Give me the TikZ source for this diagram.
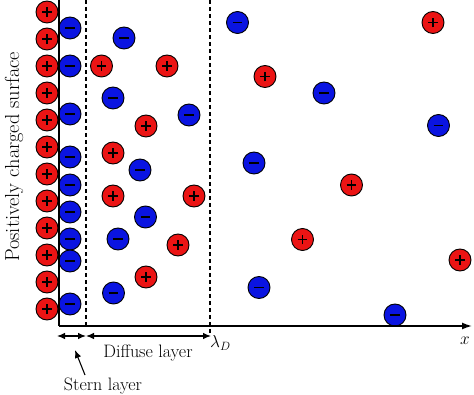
\documentclass[tikz,border=0pt]{standalone}
\usetikzlibrary{arrows.meta}
\definecolor{ionred}{RGB}{235,20,20}
\definecolor{ionblue}{RGB}{10,20,225}
\tikzset{
  ion/.style={circle, draw=black, line width=0.9pt, minimum size=22pt, inner sep=0pt},
  posion/.style={ion, fill=ionred, path picture={
      \draw[line width=1.2pt] ([xshift=-4.8pt]path picture bounding box.center) -- ([xshift=4.8pt]path picture bounding box.center);
      \draw[line width=1.2pt] ([yshift=-4.8pt]path picture bounding box.center) -- ([yshift=4.8pt]path picture bounding box.center);}},
  negion/.style={ion, fill=ionblue, path picture={
      \draw[line width=1.2pt] ([xshift=-4.8pt]path picture bounding box.center) -- ([xshift=4.8pt]path picture bounding box.center);}},
  boundary/.style={dashed, dash pattern=on 4pt off 3pt, line width=1.1pt},
  dimarrow/.style={{Latex[length=8pt,width=6.5pt]}-{Latex[length=8pt,width=6.5pt]}, line width=1.1pt},
  lbl/.style={font=\fontsize{18}{20}\selectfont, inner sep=0pt}
}
\begin{document}
\begin{tikzpicture}[x=1pt,y=-1pt]
\useasboundingbox (0,0) rectangle (474,395);
% coordinates
\coordinate (top) at (59,0);
\coordinate (o) at (59,326);
\coordinate (xe) at (472,326);
\coordinate (d1t) at (86,0);
\coordinate (d1b) at (86,326);
\coordinate (d2t) at (210,0);
\coordinate (d2b) at (210,334);
\coordinate (s0) at (57,336);
\coordinate (s1) at (86,336);
\coordinate (s2) at (211,336);
\coordinate (sa) at (85,375);
\coordinate (sb) at (75,350);
% boundaries
\draw[boundary] (d1t) -- (d1b);
\draw[boundary] (d2t) -- (d2b);
% surface positive charges
\foreach \i in {0,...,11}{
  \node[posion] (p\i) at (47,{12+27*\i}) {};
}
% Stern layer negative ions
\foreach \y [count=\k] in {28,66,114,157,185,212,239,261,304}{
  \node[negion] (n\k) at (70,\y) {};
}
% diffuse layer
\node[negion] (a1) at (124,38) {};
\node[posion] (a2) at (101.5,66) {};
\node[posion] (a3) at (167,66) {};
\node[negion] (a4) at (113,98) {};
\node[negion] (a5) at (189,115) {};
\node[posion] (a6) at (146,126) {};
\node[posion] (a7) at (113,153) {};
\node[negion] (a8) at (140,170) {};
\node[posion] (a9) at (113,196) {};
\node[posion] (a10) at (194,196) {};
\node[negion] (a11) at (145.5,217) {};
\node[negion] (a12) at (118,239) {};
\node[posion] (a13) at (178,245) {};
\node[posion] (a14) at (146,277) {};
\node[negion] (a15) at (113.5,293) {};
% bulk
\node[negion] (b1) at (237.5,22.5) {};
\node[posion] (b2) at (433,22.5) {};
\node[posion] (b3) at (265,76.5) {};
\node[negion] (b4) at (324,93) {};
\node[negion] (b5) at (438.5,125.5) {};
\node[negion] (b6) at (254,163) {};
\node[posion] (b7) at (351.5,185) {};
\node[posion] (b8) at (302.5,239.5) {};
\node[posion] (b9) at (460,260) {};
\node[negion] (b10) at (259,287.5) {};
\node[negion] (b11) at (395,315) {};
% surface and axis
\draw[line width=1.8pt] (top) -- (o);
\draw[line width=1.4pt, -{Latex[length=10pt,width=7pt]}] (o) -- (xe);
% dimension arrows
\draw[dimarrow] (s0) -- (s1);
\draw[dimarrow] (s1) -- (s2);
% labels
\node[lbl] (diff) at (148,353) {Diffuse layer};
\node[lbl] (stern) at (103,386) {Stern layer};
\node[lbl, anchor=west] (lam) at (210,343) {$\lambda_D$};
\node[lbl] (xl) at (465,341) {$x$};
\node[font=\fontsize{20.3}{22}\selectfont, inner sep=0pt, rotate=90] (surf) at (14,157) {Positively charged surface};
\draw[line width=1.1pt, -{Latex[length=8pt,width=6.5pt]}] (sa) -- (sb);
\end{tikzpicture}
\end{document}
